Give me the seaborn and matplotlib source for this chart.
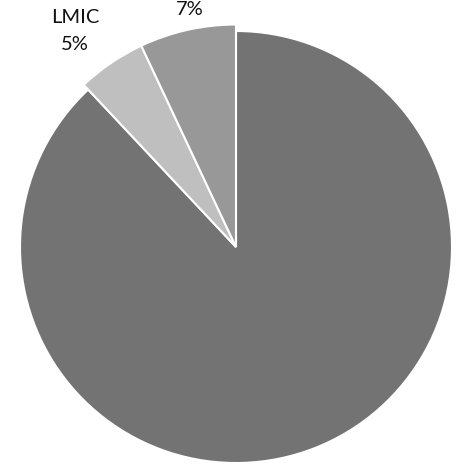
import matplotlib
matplotlib.use("Agg")
import matplotlib.pyplot as plt
import seaborn as sns

sns.set_theme(style="white")
plt.rcParams['font.family'] = ['Lato', 'DejaVu Sans']

categories = ["HIC", "LMIC", "UMIC"]
shares = [88, 5, 7]
colors = ["#737373", "#bfbfbf", "#989898"]

fig = plt.figure(figsize=(4.74, 4.74), dpi=100)
ax = fig.add_axes([0, 0, 1, 1])
wedges, _ = ax.pie(shares, startangle=90, counterclock=False, colors=colors,
                   wedgeprops=dict(edgecolor="white", linewidth=1.5))
for w in wedges[1:]:
    w.set_radius(1.03)

label_pos = {"HIC": (0.53, -1.17), "LMIC": (-0.745, 1.0), "UMIC": (-0.213, 1.158)}
for cat, val in zip(categories, shares):
    x, y = label_pos[cat]
    ax.text(x, y, f"{cat}\n{val}%", ha="center", va="center", fontsize=14.5,
            color="#111111", linespacing=1.65)

ax.set_xlim(-236/216, 238/216)
ax.set_ylim(-227/216, 247/216)
ax.set_aspect("auto")
ax.axis("off")
fig.savefig("out.png", dpi=100)
